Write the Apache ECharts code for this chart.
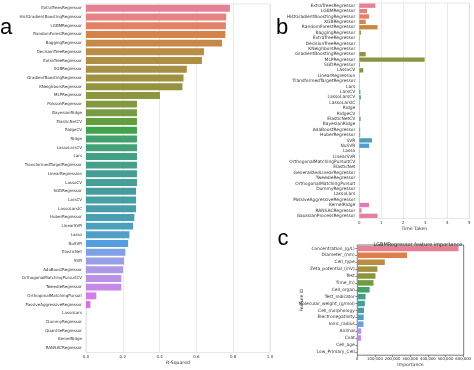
<!DOCTYPE html>
<html>
<head>
<meta charset="utf-8">
<script src="https://cdn.jsdelivr.net/npm/echarts@6/dist/echarts.min.js"></script>
<style>
html,body{margin:0;padding:0;background:#fff;}
#chart{width:474px;height:370px;}
</style>
</head>
<body>
<div id="chart"></div>
<script>
// ---------- DATA ----------
const modelsA = ["ExtraTreesRegressor","HistGradientBoostingRegressor","LGBMRegressor","RandomForestRegressor","BaggingRegressor","DecisionTreeRegressor","ExtraTreeRegressor","XGBRegressor","GradientBoostingRegressor","KNeighborsRegressor","MLPRegressor","PoissonRegressor","BayesianRidge","ElasticNetCV","RidgeCV","Ridge","LassoLarsCV","Lars","TransformedTargetRegressor","LinearRegression","LassoCV","SGDRegressor","LarsCV","LassoLarsIC","HuberRegressor","LinearSVR","Lasso","NuSVR","ElasticNet","SVR","AdaBoostRegressor","OrthogonalMatchingPursuitCV","TweedieRegressor","OrthogonalMatchingPursuit","PassiveAggressiveRegressor","LassoLars","DummyRegressor","QuantileRegressor","KernelRidge","RANSACRegressor"];
const rSquared = [0.782,0.762,0.760,0.757,0.739,0.641,0.630,0.548,0.530,0.524,0.402,0.277,0.277,0.277,0.277,0.277,0.277,0.277,0.277,0.277,0.277,0.272,0.272,0.272,0.263,0.256,0.236,0.229,0.214,0.207,0.201,0.192,0.192,0.056,0.024,0,0,0,0,0];

const modelsB = ["ExtraTreesRegressor","LGBMRegressor","HistGradientBoostingRegressor","XGBRegressor","RandomForestRegressor","BaggingRegressor","ExtraTreeRegressor","DecisionTreeRegressor","KNeighborsRegressor","GradientBoostingRegressor","MLPRegressor","SGDRegressor","LassoCV","LinearRegression","TransformedTargetRegressor","Lars","LarsCV","LassoLarsCV","LassoLarsIC","Ridge","RidgeCV","ElasticNetCV","BayesianRidge","AdaBoostRegressor","HuberRegressor","SVR","NuSVR","Lasso","LinearSVR","OrthogonalMatchingPursuitCV","ElasticNet","GeneralizedLinearRegressor","TweedieRegressor","OrthogonalMatchingPursuit","DummyRegressor","LassoLars","PassiveAggressiveRegressor","KernelRidge","RANSACRegressor","GaussianProcessRegressor"];
const timeTaken = [0.73,0.35,0.44,0.29,0.83,0.08,0.02,0.015,0.008,0.29,2.97,0.03,0.18,0.012,0.012,0.012,0.05,0.07,0.02,0.01,0.012,0.06,0.012,0.04,0.04,0.58,0.45,0.012,0.02,0.01,0.01,0.01,0.01,0.006,0.005,0.01,0.012,0.44,0.10,0.83];

const features = ["Concentration_(g/L)","Diameter_(nm)","Cell_type","Zeta_potential_(mV)","Test","Time_(h)","Cell_organ","Test_indicator","Molecular_weight_(g/mol)","Cell_morphology","Electronegativity","Ionic_radius","Animal","Coat","Cell_age","Low_Primary_Cell"];
const importance = [574000,282000,156000,114000,103000,92000,70000,47000,43000,38000,36000,35000,22000,21500,5000,1500];

const tickA = [0,0.2,0.4,0.6,0.8,1.0];
const tickB = [0,1,2,3,4,5];
const tickC = [0,100000,200000,300000,400000,500000,600000];

// ---------- COLOURS (seaborn husl palette, desaturated 0.75) ----------
function huslToRgb(H, S, L) {
  const m = [[3.2406,-1.5372,-0.4986],[-0.9689,1.8758,0.0415],[0.0557,-0.2040,1.0570]];
  const refU = 0.19784, refV = 0.46834, kappa = 903.3, eps = 0.008856;
  const hrad = H / 180 * Math.PI, sinH = Math.sin(hrad), cosH = Math.cos(hrad);
  const sub1 = Math.pow(L + 16, 3) / 1560896;
  const sub2 = sub1 > eps ? sub1 : L / kappa;
  let mx = Infinity;
  for (const [m1, m2, m3] of m) {
    const top = (0.99915*m1 + 1.05122*m2 + 1.14460*m3) * sub2;
    const rb = 0.86330*m3 - 0.17266*m2;
    const lb = 0.12949*m3 - 0.38848*m1;
    const bottom = (rb*sinH + lb*cosH) * sub2;
    for (const t of [0, 1]) {
      const C = L * (top - 1.05122*t) / (bottom + 0.17266*sinH*t);
      if (C > 0 && C < mx) mx = C;
    }
  }
  const C = mx / 100 * S;
  const U = cosH * C, V = sinH * C;
  const fInv = t => (t*t*t > eps) ? t*t*t : (116*t - 16) / kappa;
  const Y = fInv((L + 16) / 116);
  const vU = U / (13*L) + refU, vV = V / (13*L) + refV;
  const X = -(9*Y*vU) / ((vU - 4)*vV - vU*vV);
  const Z = (9*Y - 15*vV*Y - vV*X) / (3*vV);
  const fl = c => c <= 0.0031308 ? 12.92*c : 1.055*Math.pow(c, 1/2.4) - 0.055;
  return m.map(r => Math.min(1, Math.max(0, fl(r[0]*X + r[1]*Y + r[2]*Z))));
}
function desat(rgb, prop) {
  const [r, g, b] = rgb;
  const maxc = Math.max(r, g, b), minc = Math.min(r, g, b);
  const l = (maxc + minc) / 2;
  if (maxc === minc) return rgb;
  let s = l <= 0.5 ? (maxc - minc) / (maxc + minc) : (maxc - minc) / (2 - maxc - minc);
  const rc = (maxc - r) / (maxc - minc), gc = (maxc - g) / (maxc - minc), bc = (maxc - b) / (maxc - minc);
  let h = r === maxc ? bc - gc : (g === maxc ? 2 + rc - bc : 4 + gc - rc);
  h = ((h / 6) % 1 + 1) % 1;
  s *= prop;
  const m2 = l <= 0.5 ? l * (1 + s) : l + s - l * s, m1 = 2*l - m2;
  const v = hue => {
    hue = ((hue % 1) + 1) % 1;
    if (hue < 1/6) return m1 + (m2 - m1) * hue * 6;
    if (hue < 0.5) return m2;
    if (hue < 2/3) return m1 + (m2 - m1) * (2/3 - hue) * 6;
    return m1;
  };
  return [v(h + 1/3), v(h), v(h - 1/3)];
}
function palette(n) {
  const out = [];
  for (let i = 0; i < n; i++) {
    const h = ((i / n + 0.01) % 1) * 359;
    const c = desat(huslToRgb(h, 0.9 * 99, 0.65 * 99), 0.75);
    out.push('rgb(' + c.map(x => Math.round(x * 255)).join(',') + ')');
  }
  return out;
}
const palA = palette(modelsA.length);
const palB = palette(modelsB.length);
const palC = palette(features.length);

// ---------- CHART ----------
const FONT = 'DejaVu Sans';
const TXT = '#333';
const chart = echarts.init(document.getElementById('chart'), null, {renderer: 'canvas'});

function valAxis(gi, ticks, max, name, opts) {
  return Object.assign({
    type: 'value', gridIndex: gi, min: ticks[0], max: max, interval: ticks[1] - ticks[0],
    axisLine: {show: false}, axisTick: {show: false},
    splitLine: {show: true, lineStyle: {color: '#dadada', width: 0.6}},
    axisLabel: {fontSize: 4, color: TXT, fontFamily: FONT, margin: 2.5},
    name: name, nameLocation: 'middle', nameGap: 7.5, nameMoveOverlap: false,
    nameTextStyle: {fontSize: 4.6, color: TXT, fontFamily: FONT}
  }, opts || {});
}
function catAxis(gi, cats, fs, margin, opts) {
  return Object.assign({
    type: 'category', gridIndex: gi, data: cats, inverse: true,
    axisLine: {show: false}, axisTick: {show: false}, splitLine: {show: false},
    axisLabel: {interval: 0, fontSize: fs, color: TXT, fontFamily: FONT, margin: margin}
  }, opts || {});
}

const option = {
  animation: false,
  backgroundColor: '#fff',
  grid: [
    {left: 86, top: 3.9, width: 184, height: 352.4, show: true, borderColor: '#d6d6d6', borderWidth: 0.6},
    {left: 359.3, top: 3, width: 110, height: 215.5, show: true, borderColor: '#d6d6d6', borderWidth: 0.6},
    {left: 357.3, top: 245, width: 111.3, height: 110.2, show: true, borderColor: '#222', borderWidth: 0.6}
  ],
  xAxis: [
    valAxis(0, tickA, tickA[tickA.length - 1], 'R-Squared', {
      axisLabel: {fontSize: 4, color: TXT, fontFamily: FONT, margin: 2.5, formatter: v => v.toFixed(1)}
    }),
    valAxis(1, tickB, tickB[tickB.length - 1], 'Time Taken', {nameGap: 8}),
    valAxis(2, tickC, 603000, 'Importance', {
      splitLine: {show: false},
      axisTick: {show: true, length: 2, lineStyle: {color: '#222', width: 0.5}},
      axisLabel: {fontSize: 3.8, color: '#222', fontFamily: FONT, margin: 2, showMaxLabel: false},
      nameGap: 7.5
    })
  ],
  yAxis: [
    catAxis(0, modelsA, 4, 4),
    catAxis(1, modelsB, 4.4, 4),
    catAxis(2, features, 4.4, 2.5, {
      axisTick: {show: true, length: 2, alignWithLabel: true, lineStyle: {color: '#222', width: 0.5}},
      name: 'Feature ID', nameLocation: 'middle', nameGap: 53, nameRotate: 90, nameMoveOverlap: false,
      nameTextStyle: {fontSize: 4.4, color: '#222', fontFamily: FONT}
    })
  ],
  series: [
    {type: 'bar', xAxisIndex: 0, yAxisIndex: 0, data: rSquared, barCategoryGap: '20%',
     itemStyle: {color: p => palA[p.dataIndex]}},
    {type: 'bar', xAxisIndex: 1, yAxisIndex: 1, data: timeTaken, barCategoryGap: '20%',
     itemStyle: {color: p => palB[p.dataIndex]}},
    {type: 'bar', xAxisIndex: 2, yAxisIndex: 2, data: importance, barCategoryGap: '20%',
     itemStyle: {color: p => palC[p.dataIndex]}}
  ],
  title: {
    text: 'LGBMRegressor feature importance', left: 412.9, top: 237.5, textAlign: 'center',
    textStyle: {fontSize: 5, fontWeight: 'normal', color: '#222', fontFamily: FONT}
  },
  graphic: [
    {type: 'text', left: 0, top: 17, style: {text: 'a', font: '22px "Liberation Sans"', fill: '#000'}},
    {type: 'text', left: 276, top: 17, style: {text: 'b', font: '22px "Liberation Sans"', fill: '#000'}},
    {type: 'text', left: 277.5, top: 228, style: {text: 'c', font: '22px "Liberation Sans"', fill: '#000'}}
  ]
};
chart.setOption(option);
</script>
</body>
</html>
